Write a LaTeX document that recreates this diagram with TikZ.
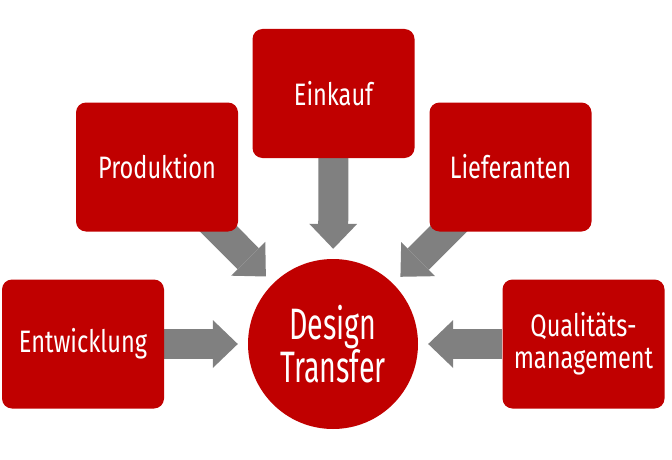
\documentclass[tikz,border=0pt]{standalone}
\usepackage{fontspec}
\setmainfont{Fira Sans}[FakeStretch=0.76]
\newfontfamily\centrefont{Fira Sans}[FakeStretch=0.65]
\usepackage{tikz}
\usetikzlibrary{shapes,arrows.meta,backgrounds}
\definecolor{boxred}{HTML}{C00000}
\definecolor{arrowgray}{HTML}{808080}

\begin{document}
\begin{tikzpicture}
	[x=1pt, y=1pt,
		redbox/.style={rectangle, rounded corners=10pt, fill=boxred, text=white, minimum width=162pt, minimum height=129pt, align=center, font=\fontsize{31}{32}\selectfont},
		redcircle/.style={circle, fill=boxred, text=white, minimum size=170pt, inner sep=0pt, align=center, font=\centrefont\fontsize{44}{40}\selectfont},
		grayarrow/.style={draw=arrowgray, line width=30pt, -{Triangle[width=48pt, length=25pt, line width=0pt]}, shorten >=10pt},
	]
	\useasboundingbox (0,0) rectangle (672,459);

	\node[redcircle] (design) at (333,115) {Design\\Transfer};

	\node[redbox] (entw) at (83,115) {Entwicklung};
	\node[redbox] (qual) at (583.5,115) {Qualitäts-\\management};
	\node[redbox] (prod) at (157,292) {Produktion};
	\node[redbox] (eink) at (333.5,365.5) {Einkauf};
	\node[redbox] (lief) at (510.5,292) {Lieferanten};

	% arrows behind the boxes
	\begin{scope}[on background layer]
		\draw[grayarrow] (entw) -- (design);
		\draw[grayarrow] (qual) -- (design);
		\draw[grayarrow] (eink) -- (design);
		\draw[grayarrow, shorten <=-20pt] (prod) -- (design);
		\draw[grayarrow, shorten <=-20pt] (lief) -- (design);
	\end{scope}

\end{tikzpicture}
\end{document}
